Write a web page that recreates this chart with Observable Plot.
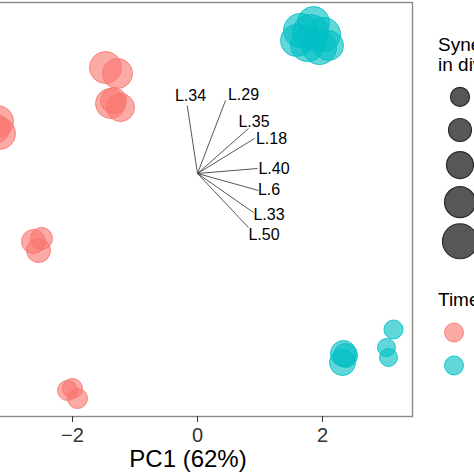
<!DOCTYPE html>
<html>
<head>
<meta charset="utf-8">
<script src="https://cdn.jsdelivr.net/npm/d3@7"></script>
<script src="https://cdn.jsdelivr.net/npm/@observablehq/plot@0.6"></script>
<style>
html, body { margin: 0; padding: 0; background: #fff; }
#root { position: relative; width: 474px; height: 474px; overflow: hidden; font-family: "Liberation Sans", Arial, sans-serif; color: #000; }
#chart { position: absolute; left: -77px; top: 0; }
.legend { position: absolute; left: 438px; width: 36px; overflow: hidden; white-space: nowrap; }
.legend .title { font-size: 19px; line-height: 20px; }
.legend .row { display: flex; align-items: center; }
.legend svg { display: block; overflow: visible; flex: none; }
</style>
</head>
<body>
<div id="root">
  <div id="chart"></div>
  <div id="legend-size" class="legend" style="top:35px"></div>
  <div id="legend-time" class="legend" style="top:290px"></div>
</div>
<script>
// ---- Data ----
const pointX = [-1.472, -1.28, -1.392, -1.232, -1.344, -3.2, -3.168, -3.248, -2.624, -2.496, -2.544, -2.08, -2.0, -1.92,
                1.648, 1.856, 2.016, 1.76, 1.952, 1.584, 2.096, 1.808, 2.336, 2.32, 2.368, 3.136, 3.024, 3.056];
const pointY = [1.696, 1.6, 1.12, 1.056, 1.168, 0.832, 0.64, 0.72, -1.088, -1.04, -1.232, -3.472, -3.44, -3.6,
                2.288, 2.416, 2.224, 2.064, 2.016, 2.128, 2.048, 2.256, -2.88, -3.024, -2.912, -2.496, -2.784, -2.944];
const pointTime = ["T1","T1","T1","T1","T1","T1","T1","T1","T1","T1","T1","T1","T1","T1",
                   "T2","T2","T2","T2","T2","T2","T2","T2","T2","T2","T2","T2","T2","T2"];
const pointSynergy = [4.25, 3.75, 3.75, 3.25, 2.75, 4.25, 4.25, 3.75, 2.25, 1.75, 2.25, 1.25, 1.25, 1.25,
                      4.75, 4.25, 4.75, 4.75, 4.75, 4.25, 3.75, 5.25, 2.75, 2.75, 2.25, 1, 0.75, 0.75];

const loadingNames = ["L.34", "L.29", "L.35", "L.18", "L.40", "L.6", "L.33", "L.50"];
const loadingX = [-0.165, 0.448, 0.816, 0.912, 0.96, 0.976, 0.896, 0.816];
const loadingY = [1.088, 1.168, 0.72, 0.56, 0.08, -0.272, -0.624, -0.864];
const labelX = [-0.112, 0.736, 0.904, 1.184, 1.224, 1.144, 1.144, 1.064];
const labelY = [1.248, 1.264, 0.832, 0.56, 0.08, -0.256, -0.656, -0.976];

const xTicks = [-2, 0, 2];
const xLabel = "PC1 (62%)";
const sizeTitle = ["Synergy", "in diversity"];
const sizeLegendValues = [1, 2, 3, 4, 5];
const timeTitle = "Time";
const timeLevels = ["T1", "T2"];
const timeColors = ["#F8766D", "#00BFC4"];

// ---- Build tables ----
const points = pointX.map((x, i) => ({x, y: pointY[i], time: pointTime[i], synergy: pointSynergy[i]}));
const loadings = loadingNames.map((name, i) => ({name, x: loadingX[i], y: loadingY[i], lx: labelX[i], ly: labelY[i]}));

const font = '"Liberation Sans", Arial, sans-serif';
const minus = d => (d < 0 ? "\u2212" + Math.abs(d) : String(d));

const plot = Plot.plot({
  width: 491,
  height: 474,
  marginLeft: 40,
  marginRight: 2,
  marginTop: 2,
  marginBottom: 58,
  x: {domain: [-3.744, 3.44]},
  y: {domain: [-3.888, 2.736], axis: null},
  r: {type: "linear", domain: [1, 5], range: [9.5, 17.5]},
  color: {domain: timeLevels, range: timeColors},
  style: {fontFamily: font, background: "transparent"},
  marks: [
    Plot.dot(points, {x: "x", y: "y", r: "synergy", fill: "time", stroke: "time",
      fillOpacity: 0.62, strokeOpacity: 0.85, strokeWidth: 1, clip: true}),
    Plot.link(loadings, {x1: () => 0, y1: () => 0, x2: "x", y2: "y", stroke: "#444", strokeWidth: 0.9}),
    Plot.text(loadings, {x: "lx", y: "ly", text: "name", fontSize: 16, fill: "#000"}),
    Plot.frame({stroke: "#8a8a8a", strokeWidth: 1.4}),
    Plot.axisX({ticks: xTicks, tickFormat: minus, tickSize: 6, tickPadding: 5, fontSize: 20,
      label: null, color: "#333"}),
    Plot.text([xLabel], {frameAnchor: "bottom", lineAnchor: "middle", dy: 43, fontSize: 24, fill: "#000"})
  ]
});
document.getElementById("chart").appendChild(plot);

// ---- Legends (HTML + SVG circles, sized through the plot's r scale) ----
const rScale = plot.scale("r");
const sizeDiv = d3.select("#legend-size");
sizeDiv.append("div").attr("class", "title").html(sizeTitle.join("<br>"));
const sizeRows = sizeDiv.append("div").style("margin-top", "6px");
sizeLegendValues.forEach(v => {
  const r = rScale.apply(v);
  const h = 21.6 + 1.08 * r;
  const row = sizeRows.append("div").attr("class", "row").style("height", h + "px");
  const svg = row.append("svg").attr("width", 44).attr("height", h);
  svg.append("circle").attr("cx", 22).attr("cy", h / 2).attr("r", r)
    .attr("fill", "#575757").attr("stroke", "#2a2a2a").attr("stroke-width", 1.2);
});

const timeDiv = d3.select("#legend-time");
timeDiv.append("div").attr("class", "title").text(timeTitle);
const timeRows = timeDiv.append("div").style("margin-top", "5.5px");
timeLevels.forEach((t, i) => {
  const row = timeRows.append("div").attr("class", "row").style("height", "33px");
  const svg = row.append("svg").attr("width", 32).attr("height", 33);
  svg.append("circle").attr("cx", 16).attr("cy", 16.5).attr("r", 9.5)
    .attr("fill", timeColors[i]).attr("fill-opacity", 0.62)
    .attr("stroke", timeColors[i]).attr("stroke-opacity", 0.85).attr("stroke-width", 1);
});
</script>
</body>
</html>
